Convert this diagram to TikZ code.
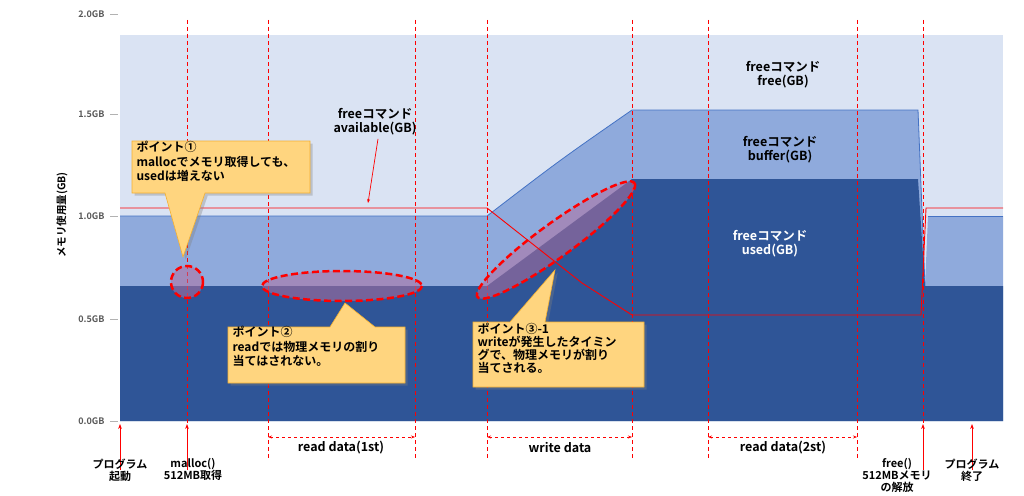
\documentclass[tikz,border=0pt]{standalone}
\usepackage{fontspec}
\setmainfont{Noto Sans CJK JP}[BoldFont={Noto Sans CJK JP Bold}]
\usetikzlibrary{arrows.meta,shadows}
\definecolor{lightb}{HTML}{DAE3F3}
\definecolor{midb}{HTML}{8FAADC}
\definecolor{darkb}{HTML}{2F5597}
\definecolor{lineb}{HTML}{4472C4}
\definecolor{callout}{HTML}{FFD57F}
\definecolor{callbd}{HTML}{F4B030}
\definecolor{ringf}{HTML}{B070A0}
\tikzset{
 vdash/.style={red,dash pattern=on 4pt off 3pt,line width=0.8pt},
 tick/.style={font=\bfseries\fontsize{9}{10}\selectfont,gray!70!black,anchor=east},
 lbl/.style={font=\bfseries\fontsize{12.5}{14}\selectfont,align=center},
 blbl/.style={font=\bfseries\fontsize{11}{12}\selectfont,align=center,anchor=north},
 ctext/.style={font=\bfseries\fontsize{12}{14.5}\selectfont,align=left,anchor=north west},
 cbox/.style={fill=callout,draw=callbd,line width=0.6pt,drop shadow={opacity=0.35}},
 ring/.style={draw=red,line width=2.5pt,dash pattern=on 7pt off 3.5pt,fill=ringf,fill opacity=0.55},
 uparr/.style={red,-{Stealth[length=5pt]},line width=0.8pt},
 span/.style={red,dashed,{Stealth[length=4pt]}-{Stealth[length=4pt]},line width=0.6pt}
}
\begin{document}
\begin{tikzpicture}[x=1pt,y=-1pt]
\useasboundingbox (0,0) rectangle (1024,495);
\fill[white] (0,0) rectangle (1024,495);
% areas
\fill[lightb] (120,35) rectangle (1003,421);
\fill[midb] (120,216) -- (487,216) .. controls (560,160) .. (632,110) -- (918,110) -- (925,286) -- (928,216) -- (1003,216) -- (1003,421) -- (120,421) -- cycle;
\draw[lineb,line width=0.8pt] (120,216) -- (487,216) .. controls (560,160) .. (632,110) -- (918,110) -- (925,286);
\draw[lineb,line width=0.8pt] (928,216) -- (1003,216);
\fill[darkb] (120,286) -- (487,286) -- (632,179) -- (918,179) -- (925,286) -- (1003,286) -- (1003,421) -- (120,421) -- cycle;
% y axis
\foreach \v/\y in {0.0GB/421,0.5GB/319,1.0GB/216,1.5GB/114,2.0GB/14}{
 \node[tick] (t\y) at (108,\y) {\v};
 \draw[gray!60] (110,\y) -- (118,\y);}
\node[font=\bfseries\fontsize{10.5}{12}\selectfont,rotate=90] (ylab) at (62,215) {メモリ使用量(GB)};
% vertical dashed
\foreach \x in {187,268,415,487,632,708,857,923}{\draw[vdash] (\x,20) -- (\x,458);}
% rings
\draw[ring] (187,282) circle (16);
\draw[ring] (342,286) ellipse (80 and 15);
\draw[ring,rotate around={36:(556,240)}] (556,240) ellipse (97 and 17);
% red available line
\draw[red,line width=0.9pt] (120,208) -- (487,208) -- (582,283) -- (632,315) -- (921,315) -- (926,208) -- (1003,208);
% area labels
\node[lbl] (avail) at (375,122) {freeコマンド\\available(GB)};
\coordinate (aend) at (368,203);
\draw[red,-{Stealth[length=4pt]},line width=0.7pt] (avail.south) ++(3,0) -- (aend);
\node[lbl] (freel) at (783,75) {freeコマンド\\free(GB)};
\node[lbl] (bufl) at (780,150) {freeコマンド\\buffer(GB)};
\node[lbl,white] (usedl) at (770,244) {freeコマンド\\used(GB)};
% callouts
\draw[cbox] (132,141) -- (310,141) -- (310,193) -- (205,193) -- (183,257) -- (165,193) -- (132,193) -- cycle;
\node[ctext] (c1) at (133,138) {ポイント①\\mallocでメモリ取得しても、\\usedは増えない};
\draw[cbox] (228,327) -- (330,327) -- (345,303) -- (375,327) -- (405,327) -- (405,383) -- (228,383) -- cycle;
\node[ctext] (c2) at (229,323) {ポイント②\\readでは物理メモリの割り\\当てはされない。};
\draw[cbox] (473,322) -- (510,322) -- (555,270) -- (545,322) -- (644,322) -- (644,387) -- (473,387) -- cycle;
\node[ctext,font=\bfseries\fontsize{12}{13}\selectfont] (c3) at (474,320) {ポイント③-1\\writeが発生したタイミン\\グで、物理メモリが割り\\当てされる。};
% bottom arrows
\foreach \x/\n in {120/a,187/b,923/c,972/d}{
 \coordinate (s\n) at (\x,470); \coordinate (e\n) at (\x,424);
 \draw[uparr] (s\n) -- (e\n);}
\foreach \a/\b in {268/415,487/632,708/857}{
 \coordinate (l\a) at (\a,437); \coordinate (r\a) at (\b,437);
 \draw[span] (l\a) -- (r\a);}
\node[lbl] (rd1) at (341,448) {read data(1st)};
\node[lbl] (wd) at (560,448) {write data};
\node[lbl] (rd2) at (783,448) {read data(2st)};
\node[blbl] (b1) at (120,455) {プログラム\\起動};
\node[blbl] (b2) at (193,455) {malloc()\\512MB取得};
\node[blbl] (b3) at (897,455) {free()\\512MBメモリ\\の解放};
\node[blbl] (b4) at (972,455) {プログラム\\終了};
\end{tikzpicture}
\end{document}
